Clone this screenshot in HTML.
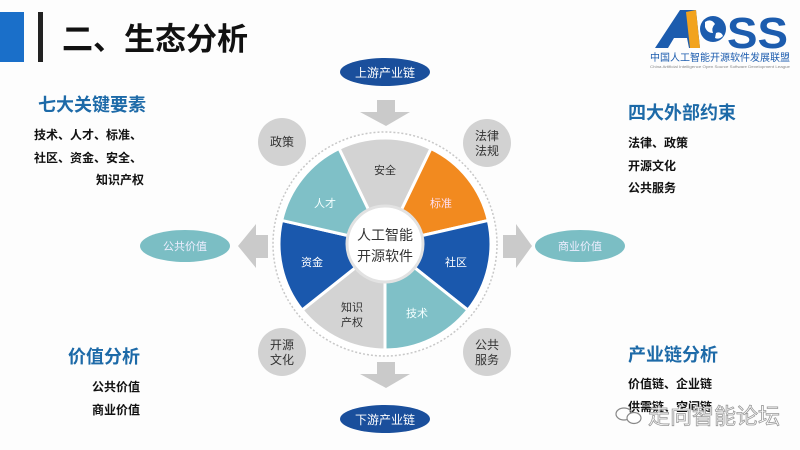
<!DOCTYPE html>
<html><head><meta charset="utf-8"><style>
html,body{margin:0;padding:0;background:#fff;}
svg{display:block;}
text{font-family:"Liberation Sans","Noto Sans CJK SC",sans-serif;}
</style></head><body>
<svg width="800" height="450" viewBox="0 0 800 450" xmlns="http://www.w3.org/2000/svg">
<rect width="800" height="450" fill="#fdfdfd"/>
<!-- header -->
<rect x="0" y="12" width="24" height="50" fill="#1a6fc9"/>
<rect x="38" y="12" width="5" height="50" fill="#222"/>
<text x="62" y="50" font-size="31" font-weight="bold" fill="#111">二、生态分析</text>
<!-- logo -->
<polygon points="655,48 680,10 696,10 700,48 689,48 687,38 674,38 668,48" fill="#1c5cae"/>
<polygon points="686,12 696,10 700,48 690,48" fill="#f2a31e"/>
<circle cx="713" cy="29" r="13" fill="#1c5cae"/>
<path d="M705,22 q6,-4 10,2 q-4,4 -2,9 q-6,0 -8,-6z M716,33 q5,-2 7,3 q-4,4 -8,2z" fill="#fff"/>
<text x="727" y="48" font-size="44" font-weight="bold" fill="#1c5cae" textLength="61" lengthAdjust="spacingAndGlyphs">SS</text>
<text x="650" y="61" font-size="10" fill="#1c5cae" textLength="140" lengthAdjust="spacingAndGlyphs">中国人工智能开源软件发展联盟</text>
<text x="650" y="68" font-size="4" fill="#888" textLength="140" lengthAdjust="spacingAndGlyphs">China Artificial Intelligence Open Source Software Development League</text>
<!-- left texts -->
<text x="38" y="111" font-size="18" font-weight="bold" fill="#1d6aa8">七大关键要素</text>
<text x="34" y="139" font-size="12" font-weight="bold" fill="#111">技术、人才、标准、</text>
<text x="34" y="162" font-size="12" font-weight="bold" fill="#111">社区、资金、安全、</text>
<text x="144" y="184" font-size="12" font-weight="bold" fill="#111" text-anchor="end">知识产权</text>
<text x="140" y="363" font-size="18" font-weight="bold" fill="#1d6aa8" text-anchor="end">价值分析</text>
<text x="140" y="391" font-size="12" font-weight="bold" fill="#111" text-anchor="end">公共价值</text>
<text x="140" y="414" font-size="12" font-weight="bold" fill="#111" text-anchor="end">商业价值</text>
<!-- right texts -->
<text x="628" y="119" font-size="18" font-weight="bold" fill="#1d6aa8">四大外部约束</text>
<text x="628" y="147" font-size="12" font-weight="bold" fill="#111">法律、政策</text>
<text x="628" y="170" font-size="12" font-weight="bold" fill="#111">开源文化</text>
<text x="628" y="192" font-size="12" font-weight="bold" fill="#111">公共服务</text>
<text x="628" y="361" font-size="18" font-weight="bold" fill="#1d6aa8">产业链分析</text>
<text x="628" y="388" font-size="12" font-weight="bold" fill="#111">价值链、企业链</text>
<text x="628" y="411" font-size="12" font-weight="bold" fill="#111">供需链、空间链</text>
<ellipse cx="624" cy="414" rx="8" ry="6" fill="none" stroke="#888" stroke-width="1.2"/>
<ellipse cx="634" cy="418" rx="7" ry="5.5" fill="#fff" stroke="#888" stroke-width="1.2"/>
<text x="648" y="424" font-size="22" fill="#fff" stroke="#999" stroke-width="0.8">走向智能论坛</text>
<!-- pills -->
<ellipse cx="385" cy="72" rx="45" ry="14" fill="#1a4f9c"/>
<text x="385" y="77" font-size="12" fill="#fff" text-anchor="middle">上游产业链</text>
<ellipse cx="385" cy="419" rx="45" ry="14" fill="#1a4f9c"/>
<text x="385" y="424" font-size="12" fill="#fff" text-anchor="middle">下游产业链</text>
<ellipse cx="185" cy="246" rx="45" ry="16" fill="#7bbec4"/>
<text x="185" y="250" font-size="11" fill="#eef" text-anchor="middle">公共价值</text>
<ellipse cx="580" cy="246" rx="45" ry="16" fill="#7bbec4"/>
<text x="580" y="250" font-size="11" fill="#eef" text-anchor="middle">商业价值</text>
<!-- arrows -->
<g fill="#cacaca">
<polygon points="377,100 395,100 395,112 410,112 386,126 360,112 377,112"/>
<polygon points="377,362 395,362 395,374 410,374 386,388 360,374 377,374"/>
<polygon points="268,235 256,235 256,224 238,246 256,268 256,258 268,258"/>
<polygon points="503,235 516,235 516,224 532,246 516,268 516,258 503,258"/>
</g>
<!-- small circles -->
<g fill="#d2d2d2">
<circle cx="282" cy="142" r="24"/><circle cx="487" cy="143" r="24"/>
<circle cx="282" cy="352" r="24"/><circle cx="487" cy="352" r="24"/>
</g>
<g font-size="12" fill="#333" text-anchor="middle">
<text x="282" y="146">政策</text>
<text x="487" y="140">法律</text><text x="487" y="155">法规</text>
<text x="282" y="349">开源</text><text x="282" y="364">文化</text>
<text x="487" y="349">公共</text><text x="487" y="364">服务</text>
</g>
<!-- wheel -->
<circle cx="385" cy="244" r="112" fill="#fff" stroke="#c8c8c8" stroke-width="1.5" stroke-dasharray="2,2"/>
<g stroke="#fff" stroke-width="3">
<path d="M369.4,211.6 L339.0,148.5 A106,106 0 0 1 431.0,148.5 L400.6,211.6 A36,36 0 0 0 369.4,211.6Z" fill="#d3d3d3"/>
<path d="M400.6,211.6 L431.0,148.5 A106,106 0 0 1 488.3,220.4 L420.1,236.0 A36,36 0 0 0 400.6,211.6Z" fill="#f28a1f"/>
<path d="M420.1,236.0 L488.3,220.4 A106,106 0 0 1 467.9,310.1 L413.1,266.4 A36,36 0 0 0 420.1,236.0Z" fill="#1a58ad"/>
<path d="M413.1,266.4 L467.9,310.1 A106,106 0 0 1 385,350 L385,280 A36,36 0 0 0 413.1,266.4Z" fill="#7fc0c7"/>
<path d="M385,280 L385,350 A106,106 0 0 1 302.1,310.1 L356.9,266.4 A36,36 0 0 0 385,280Z" fill="#d3d3d3"/>
<path d="M356.9,266.4 L302.1,310.1 A106,106 0 0 1 281.7,220.4 L349.9,236.0 A36,36 0 0 0 356.9,266.4Z" fill="#1a58ad"/>
<path d="M349.9,236.0 L281.7,220.4 A106,106 0 0 1 339.0,148.5 L369.4,211.6 A36,36 0 0 0 349.9,236.0Z" fill="#7fc0c7"/>
</g>
<circle cx="385" cy="244" r="38" fill="#fff" stroke="#e2e2e2" stroke-width="3"/>
<text x="385" y="240" font-size="14" fill="#333" text-anchor="middle">人工智能</text>
<text x="385" y="261" font-size="14" fill="#333" text-anchor="middle">开源软件</text>
<g font-size="11" text-anchor="middle">
<text x="385" y="174" fill="#333">安全</text>
<text x="441" y="207" fill="#fde">标准</text>
<text x="456" y="266" fill="#fff">社区</text>
<text x="417" y="317" fill="#f4ffff">技术</text>
<text x="352" y="311" fill="#333">知识</text><text x="352" y="326" fill="#333">产权</text>
<text x="312" y="266" fill="#fff">资金</text>
<text x="325" y="207" fill="#f4ffff">人才</text>
</g>
</svg>
</body></html>
